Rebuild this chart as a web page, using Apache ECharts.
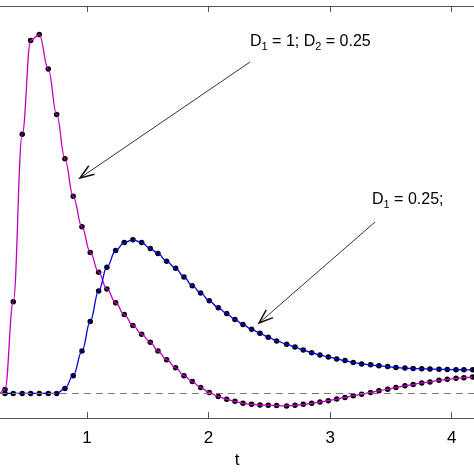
<!DOCTYPE html><html><head><meta charset="utf-8"><script src="https://cdn.jsdelivr.net/npm/echarts@6/dist/echarts.min.js"></script></head><body style="margin:0"><div id="c" style="width:474px;height:474px"></div><script>
const tVals=[0.326,0.394,0.468,0.537,0.608,0.682,0.751,0.819,0.887,0.959,1.027,1.096,1.164,1.236,1.307,1.378,1.450,1.521,1.584,1.655,1.729,1.798,1.866,1.935,2.006,2.080,2.149,2.217,2.283,2.354,2.423,2.491,2.560,2.642,2.711,2.779,2.848,2.916,2.985,3.054,3.122,3.190,3.259,3.333,3.401,3.473,3.541,3.615,3.683,3.753,3.821,3.895,3.963,4.035,4.100,4.172];
const magenta=[0.04,0.93,2.63,3.58,3.64,3.29,2.83,2.38,2.00,1.69,1.43,1.23,1.06,0.92,0.80,0.69,0.60,0.52,0.43,0.343,0.26,0.18,0.12,0.06,0.01,-0.03,-0.06,-0.08,-0.10,-0.11,-0.117,-0.12,-0.123,-0.127,-0.12,-0.11,-0.10,-0.087,-0.073,-0.057,-0.04,-0.023,-0.007,0.01,0.027,0.043,0.06,0.077,0.09,0.107,0.117,0.133,0.143,0.153,0.16,0.167];
const blue=[0,0,0,0,0,0,0,0.05,0.18,0.43,0.73,1.04,1.28,1.45,1.53,1.56,1.53,1.47,1.42,1.34,1.27,1.18,1.093,1.02,0.94,0.87,0.81,0.75,0.70,0.65,0.61,0.57,0.533,0.50,0.47,0.44,0.413,0.39,0.37,0.35,0.333,0.313,0.30,0.29,0.28,0.273,0.263,0.257,0.253,0.25,0.247,0.245,0.243,0.241,0.24,0.24];
const xTicks=[1,2,3,4];
const label1=['D','1',' = 1; D','2',' = 0.25'];
const label2=['D','1',' = 0.25;'];
const pts=a=>tVals.map((t,i)=>[t,a[i]]);
const font='Liberation Sans, Arial, sans-serif';
const rt=p=>p.map((s,i)=>i%2?'{s|'+s+'}':'{n|'+s+'}').join('');
const rich={n:{fontSize:16,fontFamily:font,color:'#000'},s:{fontSize:11,fontFamily:font,color:'#000',verticalAlign:'bottom',padding:[10,0,0,0]}};
const ch=echarts.init(document.getElementById('c'));
function arrow(x1,y1,x2,y2){const a=Math.atan2(y1-y2,x1-x2),L=15,w=0.35;
return [{type:'line',shape:{x1,y1,x2,y2},style:{stroke:'#333',lineWidth:1}},
{type:'polyline',shape:{points:[[x2+L*Math.cos(a+w),y2+L*Math.sin(a+w)],[x2,y2],[x2+L*Math.cos(a-w),y2+L*Math.sin(a-w)]]},style:{stroke:'#111',lineWidth:1.5,fill:null}}];}
ch.setOption({animation:false,
grid:{left:0,right:0,top:6,bottom:49},
xAxis:[{type:'value',min:0.285,max:4.183,interval:1,position:'bottom',
 axisLine:{onZero:false,lineStyle:{color:'#555'}},axisTick:{inside:true,length:6,lineStyle:{color:'#555'},customValues:xTicks},
 axisLabel:{customValues:xTicks,fontSize:17,fontFamily:font,color:'#000',margin:12},splitLine:{show:false},
 name:'t',nameLocation:'middle',nameGap:33,nameTextStyle:{fontSize:17,fontFamily:font,color:'#000'}},
 {type:'value',min:0.285,max:4.183,position:'top',axisLine:{onZero:false,lineStyle:{color:'#555'}},axisTick:{inside:true,length:6,lineStyle:{color:'#555'},customValues:xTicks},axisLabel:{show:false},splitLine:{show:false}}],
yAxis:{type:'value',min:-0.25,max:3.93,show:false},
series:[
{type:'line',data:[[0.285,0]].concat(pts(magenta)),smooth:0.4,smoothMonotone:'x',showSymbol:false,lineStyle:{color:'#c000c0',width:1.3},
 markLine:{silent:true,symbol:'none',label:{show:false},lineStyle:{color:'#777',type:[7,5],width:1},data:[{yAxis:0}]}},
{type:'line',data:[[0.285,0]].concat(pts(blue)),smooth:0.4,smoothMonotone:'x',showSymbol:false,lineStyle:{color:'#0000dd',width:1.3}},
{type:'scatter',data:pts(magenta),symbolSize:5.5,itemStyle:{color:'#000',opacity:1}},
{type:'scatter',data:pts(blue),symbolSize:5.5,itemStyle:{color:'#000',opacity:1}}],
graphic:[{type:'text',left:250,top:34,style:{text:rt(label1),rich}},
{type:'text',left:372,top:192,style:{text:rt(label2),rich}}]
 .concat(arrow(250,62,80,178)).concat(arrow(375,222,259,323))
});
</script></body></html>
